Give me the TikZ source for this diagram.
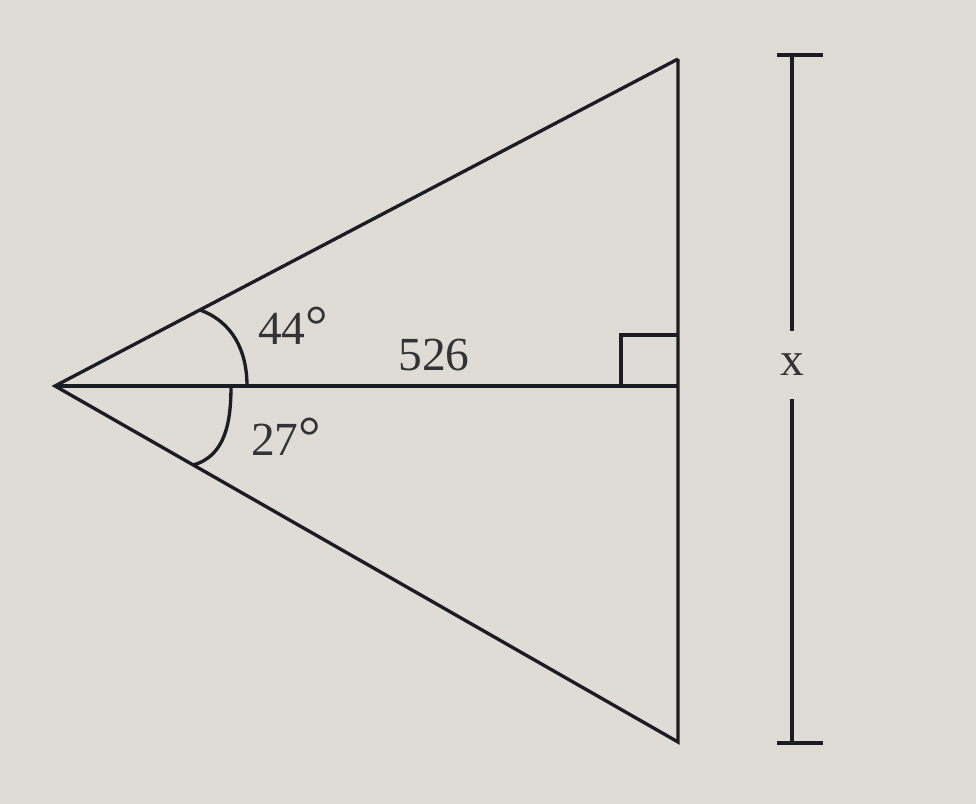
\documentclass[tikz,border=0pt]{standalone}
\usepackage{fontspec}
\setmainfont{Liberation Serif}
\definecolor{sfondo}{RGB}{222,220,213}
\definecolor{linea}{RGB}{28,28,36}
\definecolor{testo}{RGB}{50,50,55}
\newcommand{\gradi}{{\fontsize{16pt}{16pt}\selectfont°}}
\begin{document}
\begin{tikzpicture}[x=0.01cm, y=-0.01cm, line width=0.95pt, draw=linea,
    etichetta/.style={text=testo, inner sep=0pt, font=\fontsize{13.5pt}{16pt}\selectfont}]
              % Sfondo
              \fill[sfondo] (0,0) rectangle (976,804);
              \useasboundingbox (0,0) rectangle (976,804);

              % Punti
              \coordinate (A) at (55,386);
              \coordinate (T) at (678,59);
              \coordinate (B) at (678,742);
              \coordinate (H) at (678,386);
              \coordinate (R) at (621,335);
              \coordinate (a1) at (200,310);
              \coordinate (a2) at (247,386);
              \coordinate (b1) at (231,386);
              \coordinate (b2) at (193,465);
              \coordinate (D1) at (792,55);
              \coordinate (D2) at (792,743);

              % Lati
              \draw (T) -- (A) -- (B) -- (T);
              \draw (A) -- (H);
              \draw (R |- H) -- (R) -- (R -| H);

              % Angoli
              \draw (a1) to[out=-20, in=90] (a2);
              \draw (b1) to[out=-90, in=15] (b2);
              \node[etichetta] (ang1) at (293,326) {44\gradi};
              \node[etichetta] (ang2) at (286,437) {27\gradi};
              \node[etichetta] (base) at (434,355) {526};

              % Quota
              \node[etichetta, minimum height=0.64cm] (lx) at (792,365) {x};
              \draw (D1) -- (lx);
              \draw (lx) -- (D2);
              \draw ([xshift=-0.15cm]D1) -- ([xshift=0.31cm]D1);
              \draw ([xshift=-0.15cm]D2) -- ([xshift=0.31cm]D2);
\end{tikzpicture}
\end{document}
